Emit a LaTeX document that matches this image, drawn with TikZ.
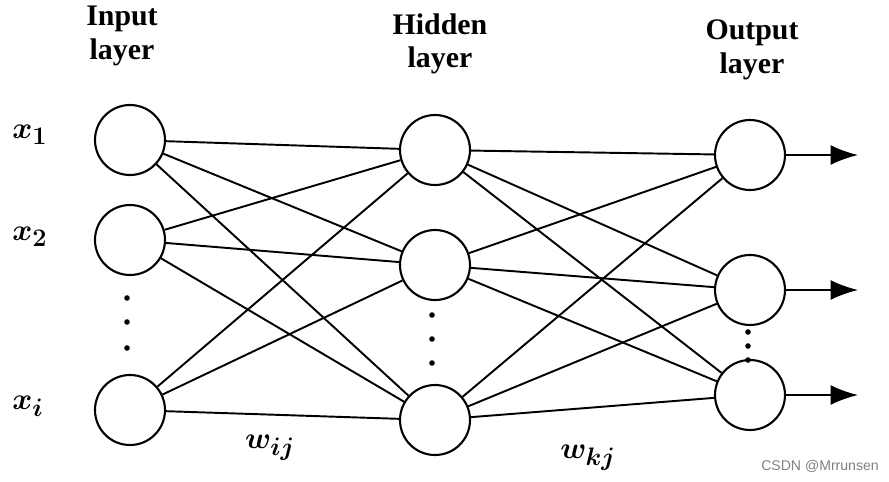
\documentclass[tikz,border=0pt]{standalone}
\usepackage{amsmath}
\usepackage{bm}
\usepackage{fontspec}
\setmainfont{Liberation Serif}
\newfontfamily\marksans{Liberation Sans}
\usetikzlibrary{arrows.meta}
\begin{document}
\begin{tikzpicture}[x=0.02cm,y=-0.02cm]
  \tikzset{neuron/.style={draw, circle, line width=1.2pt, inner sep=0pt, minimum size=1.4cm},
           link/.style={line width=1.1pt},
           layer/.style={align=center, font=\fontsize{17}{19}\selectfont\bfseries},
           var/.style={font=\fontsize{19}{21}\selectfont\bfseries\itshape}}
  \useasboundingbox (0,0) rectangle (889,481);
%% Neurons
  \node[neuron] (i1) at (130,140) {};
  \node[neuron] (i2) at (130,240) {};
  \node[neuron] (i3) at (130,410) {};
  \node[neuron] (h1) at (435,150) {};
  \node[neuron] (h2) at (435,265) {};
  \node[neuron] (h3) at (435,420) {};
  \node[neuron] (o1) at (750,155) {};
  \node[neuron] (o2) at (750,290) {};
  \node[neuron] (o3) at (750,395) {};
%% Labels
  \node[layer] (tin) at (122,36) {Input\\layer};
  \node[layer] (thid) at (440,44) {Hidden\\layer};
  \node[layer] (tout) at (752,50) {Output\\layer};
  \node[var] (x1) at (30,135) {$\bm{x_1}$};
  \node[var] (x2) at (30,237) {$\bm{x_2}$};
  \node[var] (xi) at (28,406) {$\bm{x_i}$};
  \node[var] (wij) at (270,448) {$\bm{w_{ij}}$};
  \node[var] (wkj) at (588,458) {$\bm{w_{kj}}$};
  \node[font=\marksans\footnotesize, text=gray] (mark) at (820,466) {CSDN @Mrrunsen};
%% Dots
  \foreach \y in {298,322,348} \fill (127,\y) circle (2.8);
  \foreach \y in {315,339,363} \fill (432,\y) circle (2.8);
  \foreach \y in {332,346,360} \fill (748,\y) circle (2.8);
%Edges
  \foreach \a in {i1,i2,i3}
    \foreach \b in {h1,h2,h3}
      \draw[link] (\a) -- (\b);
  \foreach \a in {h1,h2,h3}
    \foreach \b in {o1,o2,o3}
      \draw[link] (\a) -- (\b);
  \coordinate (e1) at (858,155);
  \coordinate (e2) at (858,290);
  \coordinate (e3) at (858,395);
  \foreach \n in {1,2,3}
    \draw[link, -{Latex[length=5.5mm,width=4mm]}] (o\n) -- (e\n);
\end{tikzpicture}
\end{document}
